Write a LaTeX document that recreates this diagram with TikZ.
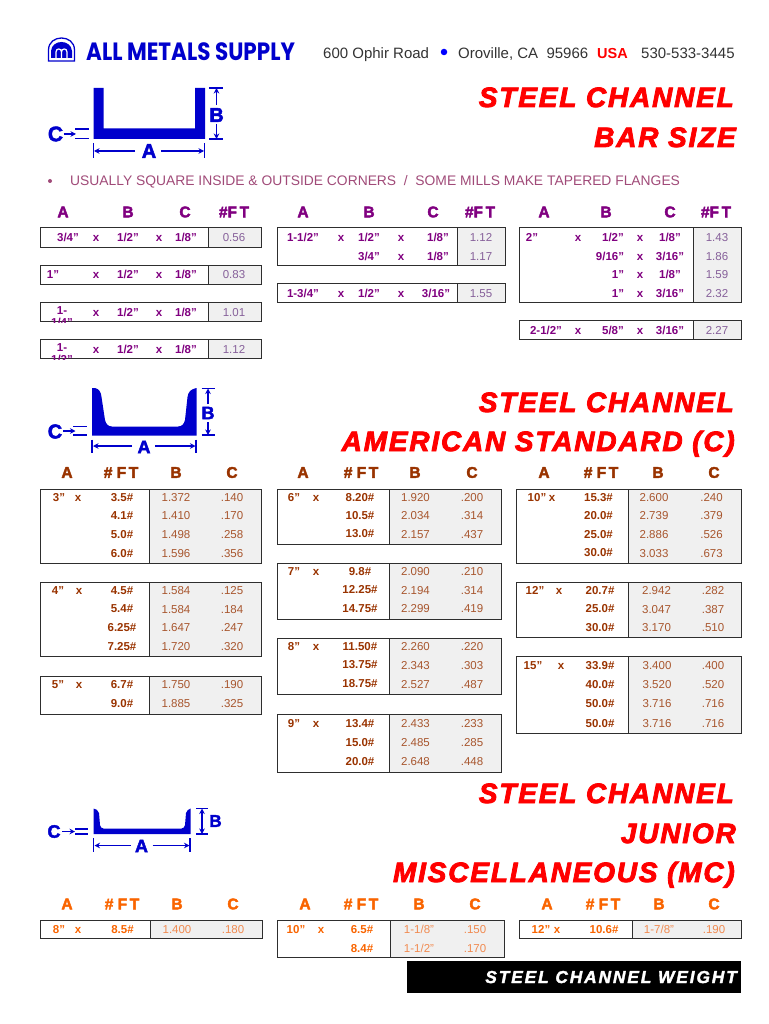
\documentclass[tikz,border=0pt]{standalone}
\usepackage{fontspec}
\setmainfont{Liberation Sans}
\newfontfamily\headfont[FakeBold=2.5]{Liberation Sans}
\newfontfamily\titlefont[LetterSpace=6.5,FakeBold=3]{Liberation Sans}
\newfontfamily\barfont[LetterSpace=11,FakeBold=2]{Liberation Sans}
\newfontfamily\logofont{Poppins}
\usetikzlibrary{arrows.meta}
\definecolor{chanblue}{HTML}{0000CC}
\definecolor{barpurple}{HTML}{800080}
\definecolor{barvalue}{HTML}{86609A}
\definecolor{stdbrown}{HTML}{993300}
\definecolor{stdvalue}{HTML}{A8562E}
\definecolor{miscorange}{HTML}{F96400}
\definecolor{miscvalue}{HTML}{F08A50}
\definecolor{panel}{HTML}{F0F0F0}
\definecolor{rim}{HTML}{2E2E2E}
\definecolor{notecolor}{HTML}{A04A78}
\tikzset{
  anybase/.style={inner sep=0pt,anchor=base,yshift=-4pt},
  barcell/.style={anybase,text=barpurple,font=\fontsize{11.5}{12}\selectfont\bfseries},
  barval/.style={anybase,text=barvalue,font=\fontsize{11.5}{12}\selectfont},
  stdcell/.style={anybase,text=stdbrown,font=\fontsize{11.5}{12}\selectfont\bfseries},
  stdval/.style={anybase,text=stdvalue,font=\fontsize{11.5}{12}\selectfont},
  misccell/.style={anybase,text=miscorange,font=\fontsize{11.5}{12}\selectfont\bfseries},
  miscval/.style={anybase,text=miscvalue,font=\fontsize{11.5}{12}\selectfont},
  anyhead/.style={inner sep=0pt,anchor=center,font=\fontsize{15.5}{16}\headfont\bfseries},
  title/.style={inner sep=0pt,anchor=base east,text=red,font=\fontsize{28}{30}\titlefont\bfseries\itshape},
  dimtext/.style={inner sep=0pt,text=chanblue,font=\fontsize{#1}{20}\headfont\bfseries},
  dimline/.style={chanblue,line width=1.2pt,-{Stealth[length=5.5pt,width=5.5pt]}},
  dimtick/.style={chanblue,line width=1.3pt},
  boxrim/.style={rim,line width=1pt},
  addr/.style={inner sep=0pt,anchor=base west,text=black!80,font=\fontsize{15}{16}\selectfont}
}
\newcommand{\chanbox}[5]{
  \fill[panel] (#3,#2) rectangle (#4,#5);
  \draw[boxrim] (#1,#2) rectangle (#4,#5);
  \draw[boxrim] (#3,#2) -- (#3,#5);
}
% style prefix, node prefix, weight x, B x, C x, rows
\newcommand{\chanrows}[6]{
  \foreach \y/\w/\b/\c [count=\n] in {#6} {
    \node[#1cell] (#2w\n) at (#3,\y) {\w\#};
    \node[#1val] (#2b\n) at (#4,\y+0.7) {\b};
    \node[#1val] (#2c\n) at (#5,\y+0.7) {\c};
  }
}
\begin{document}
\begin{tikzpicture}[x=1pt,y=-1pt]
  \useasboundingbox (0,0) rectangle (768,1024);

  % letterhead
  \draw[chanblue,line width=1.3pt,fill=white] (48.5,61) -- (48.5,50) .. controls (48.5,34) and (74.5,34) .. (74.5,50) -- (74.5,61) -- cycle;
  \fill[chanblue] (51,58) -- (51,51) .. controls (52,39) and (71,39) .. (72,51) -- (72,58) -- cycle;
  \draw[white,line width=1.2pt] (56,58) -- (56,52) .. controls (56,48) and (61.5,48) .. (61.5,52) -- (61.5,58)
    (61.5,52) .. controls (61.5,48) and (67,48) .. (67,52) -- (67,58);
  \node[inner sep=0pt,anchor=base west,text=chanblue,font=\fontsize{25}{26}\logofont\bfseries] (logo) at (86,61) {\scalebox{0.86}[1]{ALL METALS SUPPLY}};
  \node[addr] (road) at (323,59) {600 Ophir Road};
  \node[circle,fill=blue,inner sep=0pt,minimum size=6.5pt] (addrdot) at (444,52) {};
  \node[addr] (city) at (458,59) {Oroville, CA\ \ 95966};
  \node[addr,text=red,font=\fontsize{14.5}{16}\selectfont\bfseries] (usa) at (597,59) {USA};
  \node[addr] (phone) at (641,59) {530-533-3445};

  % titles
  \node[title] (bartitlea) at (734,107) {STEEL CHANNEL};
  \node[title] (bartitleb) at (736,147) {BAR SIZE};
  \node[title] (stdtitlea) at (734,412) {STEEL CHANNEL};
  \node[title] (stdtitleb) at (735,451) {AMERICAN STANDARD (C)};
  \node[title] (misctitlea) at (734,803) {STEEL CHANNEL};
  \node[title] (misctitleb) at (736,843) {JUNIOR};
  \node[title] (misctitlec) at (735,882) {MISCELLANEOUS (MC)};

  % bar size section
  \fill[chanblue] (93.5,88) -- (103.5,88) -- (103.5,128.5) -- (195,128.5) -- (195,88) -- (205,88) -- (205,139) -- (93.5,139) -- cycle;
  \node[dimtext=20] (barA) at (149,151) {A};
  \coordinate (barAl) at (94,151);
  \coordinate (barAr) at (204,151);
  \draw[dimline] (barA) ++(-14,0) -- (barAl);
  \draw[dimline] (barA) ++(12,0) -- (barAr);
  \draw[dimtick] (93.5,143) -- (93.5,158) (204.5,143) -- (204.5,158);
  \node[dimtext=20] (barB) at (216.5,115) {B};
  \coordinate (barBt) at (216.5,88);
  \coordinate (barBb) at (216.5,139);
  \draw[dimline] (barB) ++(0,-10) -- (barBt);
  \draw[dimline] (barB) ++(0,9) -- (barBb);
  \draw[dimtick] (209,88) -- (223,88) (209,139) -- (223,139);
  \node[dimtext=21] (barC) at (55.5,134) {C};
  \coordinate (barCe) at (76,134);
  \draw[dimline] (barC) ++(8,0) -- (barCe);
  \draw[dimtick] (75,129) -- (89,129) (75,138.5) -- (89,138.5);

  \node[circle,fill=notecolor,inner sep=0pt,minimum size=4pt] (notedot) at (50,181) {};
  \node[inner sep=0pt,anchor=base west,text=notecolor,font=\fontsize{13.85}{15}\selectfont] (note) at (70,186) {USUALLY SQUARE INSIDE \& OUTSIDE CORNERS\ \ /\ \ SOME MILLS MAKE TAPERED FLANGES};

  \foreach \x/\txt [count=\n] in {63/A,128/B,185/C,234/\#F\,T,303/A,369/B,433/C,480/\#F\,T,544/A,606/B,670/C,716/\#F\,T}
    \node[anyhead,text=barpurple] (barhead\n) at (\x,212) {\txt};

  \foreach \l/\t/\s/\r/\b in {40.5/228/208/261.5/247,40.5/265/208/261.5/284,40.5/302.5/208/261.5/321.5,40.5/339.5/208/261.5/358.5,
    277/228/457/505.5/265,277/283.5/457/505.5/302.5,519.5/228/693/741.5/302.5,519.5/320.5/693/741.5/339.5}
    \chanbox{\l}{\t}{\s}{\r}{\b};

  \foreach \y [count=\r] in {237,274,312,349}
    \foreach \x/\txt [count=\n] in {96/x,128/{1/2”},159/x,186/{1/8”}}
      \node[barcell] (barrow\r-\n) at (\x,\y) {\txt};
  \foreach \y/\txt [count=\n] in {237/0.56,274/0.83,312/1.01,349/1.12}
    \node[barval] (barval\n) at (234,\y) {\txt};
  \node[barcell] (bara1) at (68,237) {3/4”};
  \node[barcell] (bara2) at (53,274) {1”};
  \node[barcell] (bara3) at (62,310) {1-};
  \node[barcell] (bara4) at (62,347) {1-};
  \begin{scope}
    \clip (45,315) rectangle (90,322);
    \node[barcell] (bara3b) at (62,322.5) {1/4”};
  \end{scope}
  \begin{scope}
    \clip (45,352) rectangle (90,359);
    \node[barcell] (bara4b) at (62,359.5) {1/2”};
  \end{scope}

  \foreach \x/\y/\txt [count=\n] in {303/237/{1-1/2”},341/237/x,369/237/{1/2”},401/237/x,438/237/{1/8”},
    369/256/{3/4”},401/256/x,438/256/{1/8”},
    303/293/{1-3/4”},341/293/x,369/293/{1/2”},401/293/x,436/293/{3/16”},
    532/237/2”,578/237/x,613/237/{1/2”},640/237/x,670/237/{1/8”},
    610/256/{9/16”},640/256/x,670/256/{3/16”},
    618/274/1”,640/274/x,670/274/{1/8”},
    618/293/1”,640/293/x,670/293/{3/16”},
    546/330/{2-1/2”},578/330/x,613/330/{5/8”},640/330/x,670/330/{3/16”}}
    \node[barcell] (barcell\n) at (\x,\y) {\txt};
  \foreach \x/\y/\txt [count=\n] in {481/237/1.12,481/256/1.17,481/293/1.55,717/237/1.43,717/256/1.86,717/274/1.59,717/293/2.32,717/330/2.27}
    \node[barval] (barvalue\n) at (\x,\y) {\txt};

  % american standard section
  \fill[chanblue] (92,388) -- (95,388) .. controls (99,389) and (101,392) .. (101.5,397) -- (105,420) .. controls (106,424) and (108,426.5) .. (112,426.5)
    -- (178,426.5) .. controls (182,426.5) and (184,424) .. (185,420) -- (187.5,397) .. controls (188,392) and (191,389) .. (196.5,388) -- (196.5,435.5) -- (92,435.5) -- cycle;
  \node[dimtext=18] (stdA) at (144,447) {A};
  \coordinate (stdAl) at (93,446);
  \coordinate (stdAr) at (195.5,446);
  \draw[dimline] (stdA) ++(-12,-1) -- (stdAl);
  \draw[dimline] (stdA) ++(11,-1) -- (stdAr);
  \draw[dimtick] (92,439.5) -- (92,453) (196,439.5) -- (196,453);
  \node[dimtext=18] (stdB) at (208,413) {B};
  \coordinate (stdBt) at (208,388.5);
  \coordinate (stdBb) at (208,435);
  \draw[dimline] (stdB) ++(0,-9) -- (stdBt);
  \draw[dimline] (stdB) ++(0,9) -- (stdBb);
  \draw[dimtick] (201.5,388.5) -- (215,388.5) (201.5,435) -- (215,435);
  \node[dimtext=20] (stdC) at (55,431.5) {C};
  \coordinate (stdCe) at (75.5,431);
  \draw[dimline] (stdC) ++(8,-0.5) -- (stdCe);
  \draw[dimtick] (73,426.5) -- (87,426.5) (73,435) -- (87,435);

  \foreach \x/\txt [count=\n] in {67/A,121/\#\ F\,T,176/B,232/C,303/A,361/\#\ F\,T,415/B,472/C,544/A,601/\#\ F\,T,658/B,714/C}
    \node[anyhead,text=stdbrown] (stdhead\n) at (\x,472.5) {\txt};

  \foreach \l/\t/\s/\r/\b in {40.5/489/149.5/261.5/563,40.5/582/149.5/261.5/656,40.5/676/149.5/261.5/714,
    277/489/389/501.5/544,277/563.5/389/501.5/619,277/638/389/501.5/694,277/714.5/389/501.5/772,
    516.5/489/628/741.5/563,516.5/582/628/741.5/637.5,516.5/656.5/628/741.5/733}
    \chanbox{\l}{\t}{\s}{\r}{\b};

  \foreach \x/\xx/\y/\txt in {59/78/497/3,58/79/590/4,58/79/684/5,294/316/497/6,294/316/571/7,294/316/646/8,294/316/723/9,
    537/552/497/10,535/559/590/12,533/561/665/15} {
    \node[stdcell] (size\txt) at (\x,\y) {\txt”};
    \node[stdcell] (times\txt) at (\xx,\y) {x};
  }

  \chanrows{std}{three}{122}{176}{232}{497/3.5/1.372/.140,515/4.1/1.410/.170,534/5.0/1.498/.258,553/6.0/1.596/.356}
  \chanrows{std}{four}{122}{176}{232}{590/4.5/1.584/.125,608.5/5.4/1.584/.184,627/6.25/1.647/.247,646/7.25/1.720/.320}
  \chanrows{std}{five}{122}{176}{232}{684/6.7/1.750/.190,703/9.0/1.885/.325}
  \chanrows{std}{six}{360}{415.5}{472}{497/8.20/1.920/.200,515/10.5/2.034/.314,533.5/13.0/2.157/.437}
  \chanrows{std}{seven}{360}{415.5}{472}{571/9.8/2.090/.210,589.5/12.25/2.194/.314,608/14.75/2.299/.419}
  \chanrows{std}{eight}{360}{415.5}{472}{646/11.50/2.260/.220,664.5/13.75/2.343/.303,683.5/18.75/2.527/.487}
  \chanrows{std}{nine}{360}{415.5}{472}{723/13.4/2.433/.233,742/15.0/2.485/.285,761/20.0/2.648/.448}
  \chanrows{std}{ten}{598.5}{654}{711.5}{497/15.3/2.600/.240,515/20.0/2.739/.379,534/25.0/2.886/.526,552.5/30.0/3.033/.673}
  \chanrows{std}{twelve}{600}{656.5}{713}{590/20.7/2.942/.282,608.5/25.0/3.047/.387,627/30.0/3.170/.510}
  \chanrows{std}{fifteen}{600}{657}{713}{665/33.9/3.400/.400,684/40.0/3.520/.520,703/50.0/3.716/.716,723/50.0/3.716/.716}

  % junior section
  \fill[chanblue] (93.5,808.5) .. controls (96,809) and (98,810) .. (99,813) -- (100,825) .. controls (100.5,827) and (101.5,828.5) .. (103.5,828.5)
    -- (181.5,828.5) .. controls (183.5,828.5) and (184.5,827) .. (185,825) -- (186,813) .. controls (186.5,811) and (188.5,809) .. (190.5,808.5) -- (190.5,834) -- (93.5,834) -- cycle;
  \node[dimtext=18] (miscA) at (141.5,846) {A};
  \coordinate (miscAl) at (94.5,845.5);
  \coordinate (miscAr) at (189.5,845.5);
  \draw[dimline] (miscA) ++(-11,-0.5) -- (miscAl);
  \draw[dimline] (miscA) ++(11,-0.5) -- (miscAr);
  \draw[dimtick] (93.5,838) -- (93.5,852) (190,838) -- (190,852);
  \node[dimtext=17] (miscB) at (215.5,821) {B};
  \coordinate (miscBa) at (202,821);
  \coordinate (miscBt) at (202,808.5);
  \coordinate (miscBb) at (202,834);
  \draw[dimline] (miscBa) -- (miscBt);
  \draw[dimline] (miscBa) -- (miscBb);
  \draw[dimtick] (196,808.5) -- (208,808.5) (196,834) -- (208,834);
  \node[dimtext=18] (miscC) at (54,831.5) {C};
  \coordinate (miscCe) at (75,831.5);
  \draw[dimline] (miscC) ++(8,0) -- (miscCe);
  \draw[dimtick] (75,829) -- (88,829) (75,834) -- (88,834);

  \foreach \x/\txt [count=\n] in {67/A,122/\#\ F\,T,177/B,233/C,305/A,361/\#\ F\,T,419/B,475/C,547/A,603/\#\ F\,T,659/B,714/C}
    \node[anyhead,text=miscorange] (mischead\n) at (\x,904) {\txt};

  \foreach \l/\t/\s/\r/\b in {40.5/920/150/262.5/938.5,277.5/920/390/504/957,519.5/920/632.5/741.5/938.5}
    \chanbox{\l}{\t}{\s}{\r}{\b};

  \foreach \x/\xx/\txt in {59/78/8,296/321/10,541/557/12} {
    \node[misccell] (msize\txt) at (\x,929) {\txt”};
    \node[misccell] (mtimes\txt) at (\xx,929) {x};
  }
  \chanrows{misc}{meight}{122.5}{177}{233}{929/8.5/1.400/.180}
  \chanrows{misc}{mten}{362}{419}{475}{929/6.5/{1-1/8”}/.150,948/8.4/{1-1/2”}/.170}
  \chanrows{misc}{mtwelve}{604}{659}{714}{929/10.6/{1-7/8”}/.190}

  \fill[black] (407,961) rectangle (741,992.5);
  \node[inner sep=0pt,anchor=base east,text=white,font=\fontsize{17.3}{18}\barfont\bfseries\itshape] (weightbar) at (737,983) {STEEL CHANNEL WEIGHT};
\end{tikzpicture}
\end{document}
